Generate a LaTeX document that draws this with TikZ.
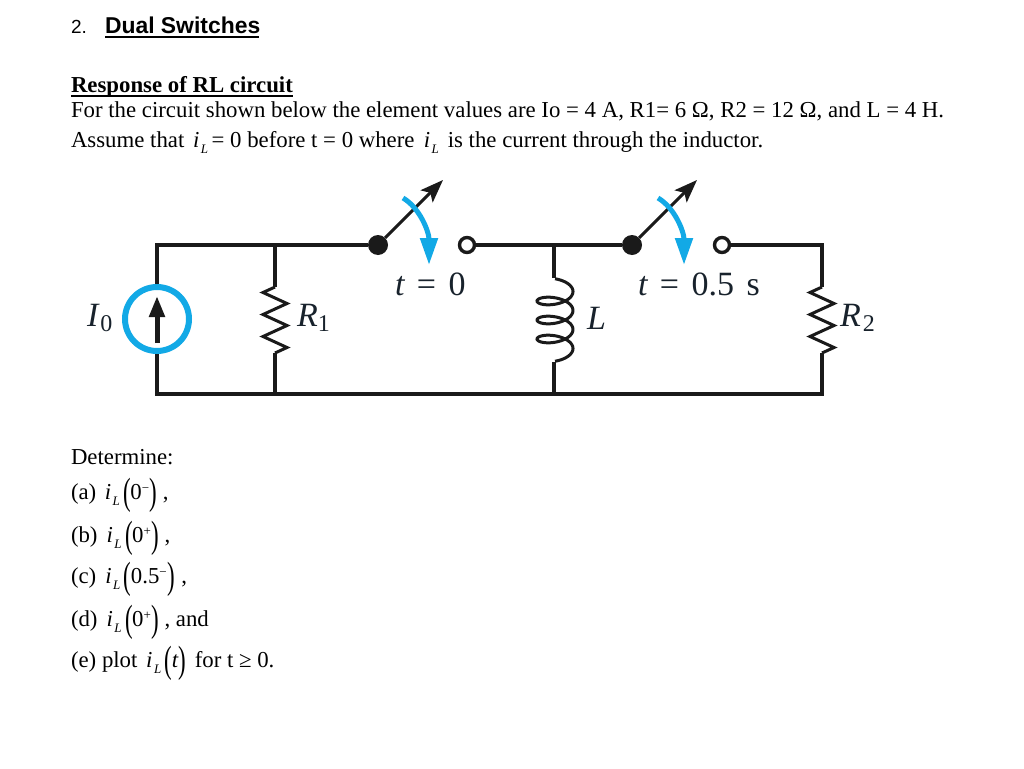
\documentclass[tikz,border=0pt]{standalone}
\usepackage{fontspec}
\setmainfont{Liberation Serif}
\newfontfamily\hvfont{Liberation Sans}
\usetikzlibrary{arrows.meta}
\definecolor{swblue}{HTML}{12A9E6}
\definecolor{ink}{HTML}{1A1A1A}
\definecolor{lbl}{HTML}{18222C}
\newcommand{\fs}[1]{\fontsize{#1}{#1}\selectfont}
\newcommand{\iL}{{\itshape i}\kern1.5pt\raisebox{-6pt}{\fs{13}\itshape L}}
\newcommand{\bp}[1]{\kern3.5pt\raisebox{-5pt}{\fs{38}\addfontfeature{FakeStretch=0.6}(}\kern-0.5pt{#1}\kern0.5pt\raisebox{-5pt}{\fs{38}\addfontfeature{FakeStretch=0.6})}}
\newcommand{\up}[1]{\raisebox{7pt}{\fs{13}#1}}
\tikzset{
  wire/.style={line width=4.5pt,draw=ink,line join=miter},
  thinwire/.style={line width=3.4pt,draw=ink,line join=miter},
  arm/.style={line width=3pt,draw=ink,-{Stealth[length=23pt,width=17pt,inset=5pt]}},
  swing/.style={line width=5pt,draw=swblue,-{Triangle[length=27pt,width=17pt]}},
  txt/.style={anchor=base west,inner sep=0pt,outer sep=0pt,text=black,font=\fs{22.8}},
  lab/.style={anchor=base west,inner sep=0pt,outer sep=0pt,text=lbl,font=\fs{34}},
  closedpin/.style={circle,fill=ink,draw=none,minimum size=20pt,inner sep=0pt},
  openpin/.style={circle,fill=white,draw=ink,line width=3.4pt,minimum size=15pt,inner sep=0pt},
  source/.style={circle,draw=swblue,line width=6pt,minimum size=64pt,inner sep=0pt}
}
\newcommand{\zig}[1]{%
  (#1,287) -- (#1-12,292.5) -- (#1+12,303.5) -- (#1-12,314.5) -- (#1+12,325.5) -- (#1-12,336.5) -- (#1+12,347.5) -- (#1,353)}
\begin{document}
\begin{tikzpicture}[x=1pt,y=-1pt]
\useasboundingbox[fill=white] (0,0) rectangle (1024,768);
% text
\node[txt,font=\hvfont\fs{19}] (num) at (71,34) {2.};
\node[txt,font=\hvfont\bfseries\fs{22.9}] (title) at (105,34) {Dual Switches};
\draw[line width=2pt] (105,37.5) -- (259,37.5);
\node[txt,font=\bfseries\fs{22.8}] (head) at (71,92) {Response of RL circuit};
\draw[line width=2pt] (71,96) -- (293,96);
\node[txt] (l1) at (71,117) {For the circuit shown below the element values are Io = 4 A, R1= 6 Ω, R2 = 12 Ω, and L = 4 H.};
\node[txt] (l2) at (71,147) {Assume that \kern3pt\iL\kern3.5pt = 0 before t = 0 where \kern3.5pt\iL\kern9pt is the current through the inductor.};
\node[txt] (det) at (71,464) {Determine:};
\node[txt] (qa) at (71,499) {(a)\kern8.5pt\iL\bp{0\up{−}}\kern5.5pt,};
\node[txt] (qb) at (71,542) {(b)\kern9pt\iL\bp{0\up{+}}\kern5.5pt,};
\node[txt] (qc) at (71,583) {(c)\kern9pt\iL\bp{0.5\up{−}}\kern6.5pt,};
\node[txt] (qd) at (71,626) {(d)\kern9pt\iL\bp{0\up{+}}\kern5.5pt, and};
\node[txt] (qe) at (71,667) {(e) plot \kern3pt\iL\bp{\itshape t}\kern8.5pt for t ≥ 0.};
% circuit nodes
\node[source] (src) at (157,319) {};
\node[closedpin] (d1) at (378,245) {};
\node[openpin] (o1) at (467,245) {};
\node[closedpin] (d2) at (632,245) {};
\node[openpin] (o2) at (722,245) {};
\coordinate (jt1) at (275,245);
\coordinate (jb1) at (275,394);
\coordinate (jt2) at (554,245);
\coordinate (jb2) at (554,394);
\coordinate (r1t) at (275,287);
\coordinate (r1b) at (275,353);
\coordinate (ct) at (554,278);
\coordinate (cb) at (554,362);
\coordinate (r2t) at (822,287);
\coordinate (r2b) at (822,353);
\coordinate (a1) at (443,180);
\coordinate (a2) at (697,180);
\coordinate (s1) at (403,198);
\coordinate (e1) at (429,265);
\coordinate (s2) at (658,198);
\coordinate (e2) at (684,265);
% wires
\draw[wire] (src.north) |- (d1);
\draw[wire] (o1) -- (d2);
\draw[wire] (o2) -| (r2t);
\draw[wire] (src.south) |- (jb2) -- (822,394) -- (r2b);
\draw[thinwire] (jt1) -- (r1t);
\draw[thinwire] (r1b) -- (jb1);
\draw[thinwire] (jt2) -- (ct);
\draw[thinwire] (cb) -- (jb2);
% resistors
\draw[thinwire,line width=3pt] \zig{275};
\draw[thinwire,line width=3pt] \zig{822};
% inductor
\draw[thinwire,line width=3pt,smooth] plot[domain=-90:1170,samples=140,variable=\a]
  ({555+18*cos(\a)},{291.5+\a/360*19+8*sin(\a)});
% switches
\draw[arm] (d1) -- (a1);
\draw[arm] (d2) -- (a2);
\draw[swing] (s1) .. controls (420,208) and (429,232) .. (e1);
\draw[swing] (s2) .. controls (675,208) and (684,232) .. (e2);
% source arrow
\draw[line width=5pt,draw=ink,-{Triangle[length=21pt,width=15pt]}] (157,343) -- (157,296);
% labels
\node[lab] (lI) at (87,326) {\itshape I\kern2pt\raisebox{-5pt}{\upshape\fs{24}0}};
\node[lab] (lR1) at (297,326) {\itshape R\raisebox{-5pt}{\upshape\fs{24}1}};
\node[lab] (lL) at (587,329) {\itshape L};
\node[lab] (lR2) at (840,326) {\itshape R\kern2pt\raisebox{-5pt}{\upshape\fs{24}2}};
\node[lab] (lt1) at (395,295) {\itshape t\upshape\kern4pt\ =\kern4pt\ 0};
\node[lab] (lt2) at (638,295) {\itshape t\upshape\kern4pt\ =\kern4pt\ 0.5\kern4pt\ s};
\end{tikzpicture}
\end{document}
